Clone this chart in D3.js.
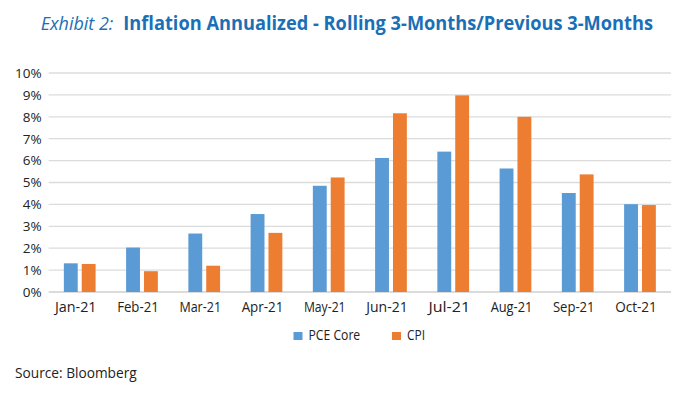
<!DOCTYPE html>
<html><head><meta charset="utf-8">
<script src="https://cdn.jsdelivr.net/npm/d3@7"></script>
<style>
html,body{margin:0;padding:0;background:#fff;}
text{font-family:"Open Sans","Noto Sans",sans-serif;}
</style></head>
<body>
<svg id="chart" width="694" height="394"></svg>
<script>
const categories = ["Jan-21","Feb-21","Mar-21","Apr-21","May-21","Jun-21","Jul-21","Aug-21","Sep-21","Oct-21"];
const seriesNames = ["PCE Core","CPI"];
const pceCore = [1.31, 2.03, 2.67, 3.56, 4.85, 6.12, 6.41, 5.64, 4.52, 4.01];
const cpi = [1.28, 0.95, 1.20, 2.70, 5.23, 8.16, 8.98, 8.00, 5.37, 3.97];
const yTicks = [0,1,2,3,4,5,6,7,8,9,10];
const colors = ["#5b9bd5", "#ed7d31"];

const svg = d3.select("#chart");
const W = 694, H = 394;
const plot = {left: 48.6, right: 671.1, top: 73, bottom: 292};

function fit(sel, w) {
  sel.each(function(){
    const len = this.getComputedTextLength();
    if (Math.abs(len - w) > 1) {
      d3.select(this).attr("textLength", w).attr("lengthAdjust", "spacingAndGlyphs");
    }
  });
}

// Title
const titleColor = "#1b6fb6";
svg.append("text").attr("x", 40.7).attr("y", 30).attr("font-size", 19)
  .attr("font-style", "italic").attr("fill", titleColor).text("Exhibit 2:")
  .call(fit, 72.6);
svg.append("text").attr("x", 123.3).attr("y", 30).attr("font-size", 19)
  .attr("font-weight", "bold").attr("fill", titleColor)
  .text("Inflation Annualized - Rolling 3-Months/Previous 3-Months")
  .call(fit, 529.7);

const x0 = d3.scaleBand().domain(categories).range([plot.left, plot.right])
  .paddingInner(0.49).paddingOuter(0.245);
const x1 = d3.scaleBand().domain(seriesNames).range([0, x0.bandwidth()]).paddingInner(0.224);
const y = d3.scaleLinear().domain([0, 10]).range([plot.bottom, plot.top]);

// gridlines
svg.append("g").selectAll("line").data(yTicks).join("line")
  .attr("x1", plot.left).attr("x2", plot.right)
  .attr("y1", d => y(d)).attr("y2", d => y(d))
  .attr("stroke", d => d === 0 ? "#cfcfcf" : "#dcdcdc").attr("stroke-width", 1.3);

// y axis labels
const yAxis = d3.axisLeft(y).tickValues(yTicks).tickFormat(d => d + "%").tickSize(0).tickPadding(0);
const gy = svg.append("g").attr("transform", `translate(41.7,0)`).call(yAxis);
gy.select(".domain").remove();
gy.selectAll("text").attr("font-size", 13.5).attr("fill", "#222")
  .attr("font-family", "'Open Sans',sans-serif");

// bars
const data = categories.map((c, i) => ({cat: c, vals: [pceCore[i], cpi[i]]}));
const groups = svg.append("g").selectAll("g").data(data).join("g")
  .attr("transform", d => `translate(${x0(d.cat)},0)`);
groups.selectAll("rect").data(d => d.vals.map((v, j) => ({name: seriesNames[j], v, j})))
  .join("rect")
  .attr("x", d => x1(d.name)).attr("width", x1.bandwidth())
  .attr("y", d => y(d.v)).attr("height", d => y(0) - y(d.v))
  .attr("fill", d => colors[d.j]);

// x labels
const xAxis = d3.axisBottom(x0).tickSize(0).tickPadding(0);
const gx = svg.append("g").attr("transform", `translate(-4,${plot.bottom})`).call(xAxis);
gx.select(".domain").remove();
gx.selectAll("text").attr("font-size", 14).attr("fill", "#222").attr("dy", null)
  .attr("y", 19.5).attr("font-family", "'Open Sans',sans-serif")
  .call(fit, 41.7);

// legend
const legendItems = [
  {name: seriesNames[0], rx: 293.5, tx: 308.5, w: 51.7},
  {name: seriesNames[1], rx: 392, tx: 407, w: 18}
];
const lg = svg.append("g");
legendItems.forEach((d, i) => {
  lg.append("rect").attr("x", d.rx).attr("y", 332).attr("width", 9).attr("height", 8).attr("fill", colors[i]);
  lg.append("text").attr("x", d.tx).attr("y", 340).attr("font-size", 14).attr("fill", "#222")
    .text(d.name).call(fit, d.w);
});

// source
svg.append("text").attr("x", 15).attr("y", 377.7).attr("font-size", 15).attr("fill", "#222")
  .text("Source: Bloomberg").call(fit, 121.7);
</script>
</body></html>
